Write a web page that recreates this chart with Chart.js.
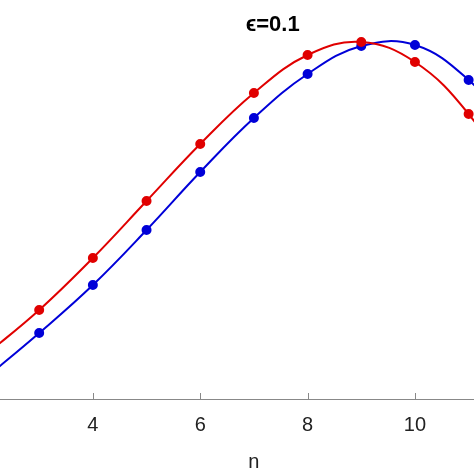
<!DOCTYPE html><html><head><script src="https://cdn.jsdelivr.net/npm/chart.js@4"></script>
<style>html,body{margin:0;padding:0;background:#fff}#w{width:474px;height:474px}</style></head><body><div id="w"><canvas id="c"></canvas></div>
<script>
const nVals=[2,3,4,5,6,7,8,9,10,11,12];
const redVals=[44,89,141,198,255,306,344,357,337,285,204];
const blueVals=[21,66,114,169,227,281,325,353,354,319,259];
const xTicks=[4,6,8,10];
const titleText='\u03f5=0.1';
const radius=nVals.map(n=>(n<3||n>11)?0:4);
const pts=a=>nVals.map((n,i)=>({x:n,y:a[i]}));
const deco={id:'deco',afterDraw(ch){const c=ch.ctx,a=ch.chartArea,x=ch.scales.x;c.save();
c.strokeStyle='#888';c.lineWidth=1;c.beginPath();c.moveTo(a.left,a.bottom+0.5);c.lineTo(a.right,a.bottom+0.5);
xTicks.forEach(t=>{const p=Math.round(x.getPixelForValue(t))+0.5;c.moveTo(p,a.bottom);c.lineTo(p,a.bottom-6);});c.stroke();
c.fillStyle='#222';c.font='20px "Liberation Sans"';c.textAlign='center';c.fillText('n',x.getPixelForValue(7),468);
c.fillStyle='#000';c.font='bold 22px "Liberation Sans"';c.fillText(titleText,x.getPixelForValue(7.35),31);c.restore();}};
new Chart(document.getElementById('c'),{type:'line',data:{datasets:[
{data:pts(redVals),borderColor:'#e00000',backgroundColor:'#e00000',borderWidth:2,pointRadius:radius,tension:0.4},
{data:pts(blueVals),borderColor:'#0000d8',backgroundColor:'#0000d8',borderWidth:2,pointRadius:radius,tension:0.4}]},
options:{animation:false,responsive:true,maintainAspectRatio:false,layout:{padding:0},
plugins:{legend:{display:false},tooltip:{enabled:false}},
scales:{x:{type:'linear',min:2.27,max:11.1,afterBuildTicks:s=>{s.ticks=xTicks.map(v=>({value:v}));},afterFit:s=>{s.height=75;},
border:{display:false},grid:{display:false},ticks:{color:'#222',font:{size:20,family:'Liberation Sans'},padding:6}},
y:{display:false,min:0,max:399}}},plugins:[deco]});
</script></body></html>
